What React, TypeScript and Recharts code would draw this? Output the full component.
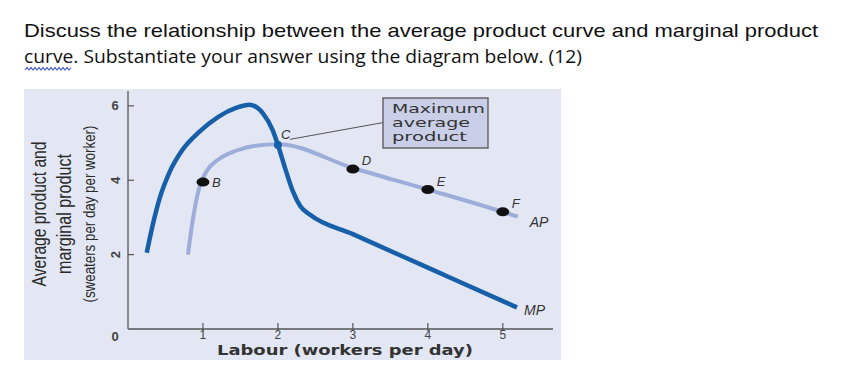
import { ComposedChart, Line, Scatter, XAxis, YAxis, ReferenceLine } from "recharts"

// labour (workers per day) vs product (sweaters per day per worker)
const mpLabour = [0.25, 0.33, 0.42, 0.55, 0.72, 0.95, 1.2, 1.45, 1.62, 1.8, 1.93, 2.0, 2.1, 2.2, 2.3, 2.43, 3, 4, 5, 5.19]
const mpProduct = [2.05, 2.8, 3.5, 4.2, 4.8, 5.3, 5.7, 5.95, 6.03, 5.8, 5.35, 4.95, 4.3, 3.7, 3.3, 3.07, 2.55, 1.65, 0.75, 0.58]

const apLabour = [0.8, 0.87, 0.95, 1.05, 1.2, 1.45, 1.7, 2.0, 3, 4, 5, 5.2]
const apProduct = [2.0, 3.0, 3.8, 4.25, 4.55, 4.8, 4.93, 4.97, 4.33, 3.75, 3.15, 3.02]

const pointNames = ["B", "C", "D", "E", "F"]
const pointLabour = [1, 2, 3, 4, 5]
const pointProduct = [3.95, 4.95, 4.3, 3.75, 3.15]

const xTicks = [1, 2, 3, 4, 5]
const yTicks = [0, 2, 4, 6]

const mpData = mpLabour.map((x, i) => ({ x, y: mpProduct[i] }))
const apData = apLabour.map((x, i) => ({ x, y: apProduct[i] }))
const pointData = pointLabour.map((x, i) => ({ x, y: pointProduct[i], name: pointNames[i] }))

const MP_COLOR = "#1760a9"
const AP_COLOR = "#9dadda"
const AXIS_COLOR = "#555"

function XTick({ x, y, payload }: any) {
  return (
    <g>
      <line x1={x} y1={y - 6} x2={x} y2={y + 2} stroke={AXIS_COLOR} strokeWidth={1.2} />
      <text x={x} y={y + 10} textAnchor="middle" fontSize={12} fill="#444" fontFamily="Liberation Sans, sans-serif">
        {payload.value}
      </text>
    </g>
  )
}

function YTick({ x, y, payload }: any) {
  const v = payload.value
  const upright = v === 0 || v === 6
  const tx = x - 13
  const ty = v === 0 ? y + 7 : y
  return (
    <g>
      {v !== 0 && <line x1={x} y1={y} x2={x + 6} y2={y} stroke={AXIS_COLOR} strokeWidth={1.2} />}
      <text
        x={tx}
        y={ty}
        textAnchor="middle"
        dominantBaseline="central"
        fontSize={13}
        fontWeight={700}
        fill="#444"
        fontFamily="Liberation Sans, sans-serif"
        transform={upright ? undefined : `rotate(-90 ${tx} ${ty})`}
      >
        {v}
      </text>
    </g>
  )
}

function PointShape({ cx, cy, payload }: any) {
  const name = payload.name
  const isC = name === "C"
  const dx = isC ? 3 : 9
  const dy = name === "B" ? 5 : isC ? -6 : -4
  return (
    <g>
      {isC ? (
        <circle cx={cx} cy={cy} r={4} fill={MP_COLOR} />
      ) : (
        <ellipse cx={cx} cy={cy} rx={6.5} ry={4.5} fill="#111" />
      )}
      <text x={cx + dx} y={cy + dy} fontSize={13} fontStyle="italic" fill="#333" fontFamily="Liberation Sans, sans-serif">
        {name}
      </text>
    </g>
  )
}

function endLabel(text: string, count: number, dx: number, dy: number) {
  return (props: any) => {
    if (props.index !== count - 1) return <g />
    return (
      <text x={props.x + dx} y={props.y + dy} fontSize={14} fontStyle="italic" fill="#333" fontFamily="Liberation Sans, sans-serif">
        {text}
      </text>
    )
  }
}

function squiggle(x0: number, x1: number, y: number) {
  let d = `M${x0},${y}`
  let up = true
  for (let x = x0 + 2; x <= x1; x += 2) {
    d += ` L${x},${up ? y - 2.5 : y}`
    up = !up
  }
  return d
}

export default function App() {
  return (
    <div style={{ position: "absolute", left: 0, top: 0, width: 846, height: 376, background: "#fff" }}>
      <div style={{ position: "absolute", left: 24, top: 89, width: 537, height: 271, background: "#e3e7f3" }}>
        <ComposedChart width={537} height={271} margin={{ top: 2, right: 8, bottom: 0, left: 84 }}>
          <XAxis
            type="number"
            dataKey="x"
            domain={[0, 5.67]}
            ticks={xTicks}
            allowDataOverflow
            height={31}
            tickSize={0}
            tickMargin={0}
            tickLine={false}
            axisLine={{ stroke: AXIS_COLOR, strokeWidth: 1.3 }}
            tick={<XTick />}
          />
          <YAxis
            type="number"
            dataKey="y"
            domain={[0, 6.4]}
            ticks={yTicks}
            allowDataOverflow
            width={20}
            tickSize={0}
            tickMargin={0}
            tickLine={false}
            axisLine={{ stroke: AXIS_COLOR, strokeWidth: 1.3 }}
            tick={<YTick />}
          />
          <ReferenceLine
            segment={[{ x: 2.16, y: 5.1 }, { x: 3.4, y: 5.55 }]}
            stroke="#555"
            strokeWidth={1}
          />
          <Line
            data={apData}
            dataKey="y"
            type="monotone"
            stroke={AP_COLOR}
            strokeWidth={4}
            dot={false}
            isAnimationActive={false}
            label={endLabel("AP", apData.length, 12, 10)}
          />
          <Line
            data={mpData}
            dataKey="y"
            type="monotone"
            stroke={MP_COLOR}
            strokeWidth={4.5}
            dot={false}
            isAnimationActive={false}
            label={endLabel("MP", mpData.length, 7, 8)}
          />
          <Scatter data={pointData} dataKey="y" shape={<PointShape />} isAnimationActive={false} />
        </ComposedChart>
      </div>

      <svg width={846} height={376} style={{ position: "absolute", left: 0, top: 0, pointerEvents: "none" }}>
        <text x={24} y={37} fontSize={19} fill="#111" fontFamily="Liberation Sans, Arial, sans-serif" textLength={794} lengthAdjust="spacingAndGlyphs">
          Discuss the relationship between the average product curve and marginal product
        </text>
        <text x={24} y={63} fontSize={18} fill="#111" fontFamily="Open Sans, Noto Sans, sans-serif" textLength={558} lengthAdjust="spacingAndGlyphs">
          curve. Substantiate your answer using the diagram below. (12)
        </text>
        <path d={squiggle(25, 71, 70)} stroke="#4a5fd0" strokeWidth={1.1} fill="none" />

        <g fontFamily="Liberation Sans Narrow, Liberation Sans, sans-serif" fill="#2a2a2a" textAnchor="middle">
          <text x={39} y={214} fontSize={20} dominantBaseline="central" textLength={145} lengthAdjust="spacingAndGlyphs" transform="rotate(-90 39 214)">
            Average product and
          </text>
          <text x={64} y={214} fontSize={20} dominantBaseline="central" textLength={120} lengthAdjust="spacingAndGlyphs" transform="rotate(-90 64 214)">
            marginal product
          </text>
          <text x={89} y={214} fontSize={16} dominantBaseline="central" textLength={177} lengthAdjust="spacingAndGlyphs" transform="rotate(-90 89 214)">
            (sweaters per day per worker)
          </text>
        </g>

        <text x={217} y={355} fontSize={14} fontWeight={700} fill="#333" fontFamily="DejaVu Sans, Verdana, sans-serif" textLength={256} lengthAdjust="spacingAndGlyphs">
          Labour (workers per day)
        </text>

        <rect x={383} y={98} width={105} height={50} fill="#c9cfe7" stroke="#555" strokeWidth={1.3} />
        <g fontFamily="DejaVu Sans, Verdana, sans-serif" fontSize={13} fill="#333">
          <text x={392} y={113} textLength={93} lengthAdjust="spacingAndGlyphs">Maximum</text>
          <text x={392} y={127} textLength={78} lengthAdjust="spacingAndGlyphs">average</text>
          <text x={392} y={141} textLength={75} lengthAdjust="spacingAndGlyphs">product</text>
        </g>
      </svg>
    </div>
  )
}
